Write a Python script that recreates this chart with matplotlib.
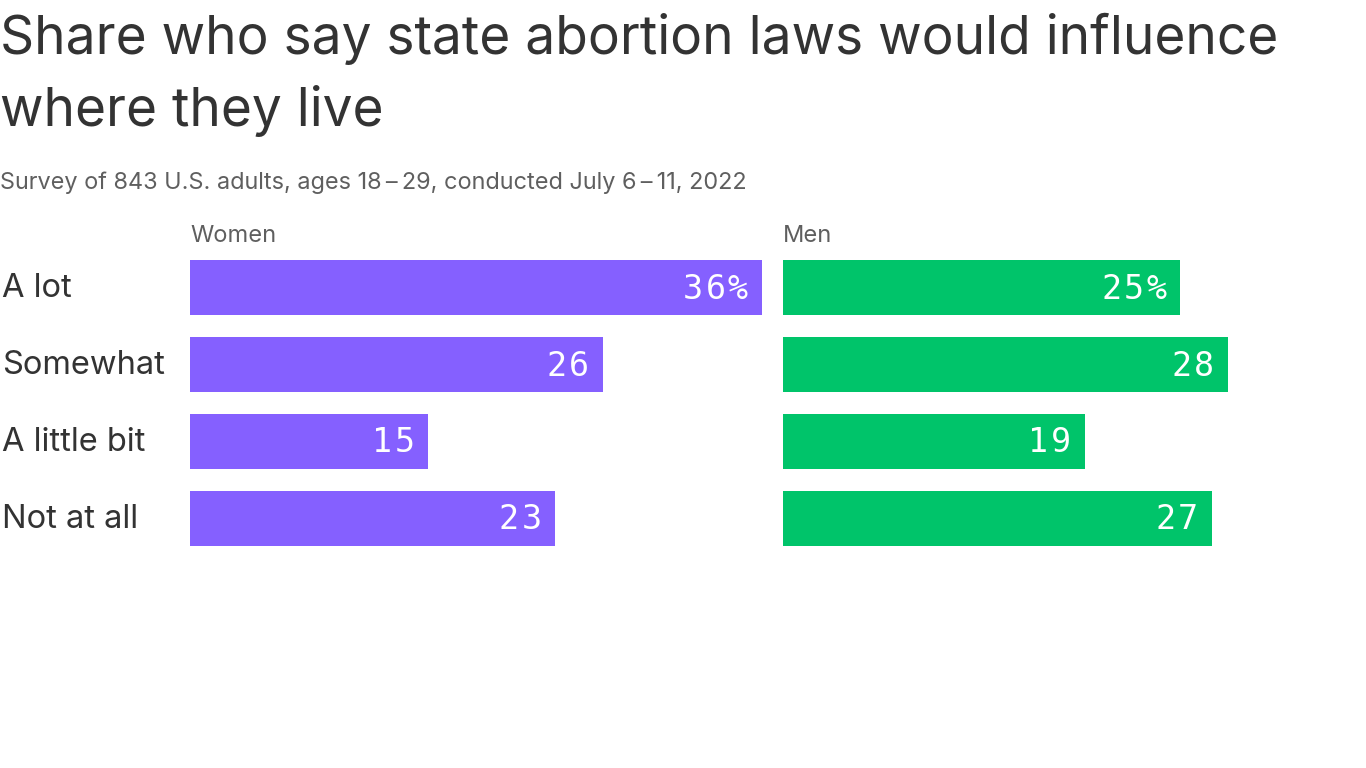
import matplotlib
matplotlib.use("Agg")
from matplotlib import pyplot as plt
from matplotlib.transforms import offset_copy

categories = ["A lot", "Somewhat", "A little bit", "Not at all"]
women = [36, 26, 15, 23]
men = [25, 28, 19, 27]
women_labels = ["36%", "26", "15", "23"]
men_labels = ["25%", "28", "19", "27"]

PURPLE = "#8560FF"
GREEN = "#00C46A"
DARK = "#333333"
GRAY = "#5f5f5f"

plt.rcParams["font.family"] = ["Inter", "DejaVu Sans"]

W, H = 1366, 768
fig = plt.figure(figsize=(W / 100, H / 100), dpi=100)
fig.patch.set_facecolor("white")

fig.text(0, 1 - 13 / H, "Share who say state abortion laws would influence\nwhere they live",
         fontsize=38.3, color=DARK, va="top", ha="left", linespacing=1.47)

fig.text(0, 1 - 183 / H, "Survey of 843 U.S. adults, ages 18\u2009\u2013\u200929, conducted July 6\u2009\u2013\u200911, 2022",
         fontsize=16.9, color=GRAY, va="center", ha="left")

bottom = 1 - 556.5 / H
height = 307 / H
width = 572 / W


def panel(left, values, labels, color, name):
    ax = fig.add_axes([left / W, bottom, width, height])
    ax.barh(range(len(values)), values, height=0.715, color=color)
    ax.set_xlim(0, 36)
    ax.set_ylim(len(values) - 0.5, -0.5)
    for i, (v, lab) in enumerate(zip(values, labels)):
        # spaced-out monospace digits, placed right to left
        for k, ch in enumerate(reversed(lab)):
            tr = offset_copy(ax.transData, fig=fig, x=-(14 + 22.5 * k) * 0.72, y=-1.5 * 0.72, units="points")
            ax.text(v, i, ch, color="white", fontsize=24, ha="right", va="center",
                    family="DejaVu Sans Mono", transform=tr)
    ax.axis("off")
    fig.text(left / W, 1 - 236 / H, name, fontsize=17, color=GRAY, va="center", ha="left")
    return ax


ax1 = panel(190, women, women_labels, PURPLE, "Women")
ax2 = panel(783, men, men_labels, GREEN, "Men")

for i, cat in enumerate(categories):
    y = ax1.transData.transform((0, i))[1]
    fig.text(2 / W, fig.transFigure.inverted().transform((0, y))[1] - 1 / H, cat,
             fontsize=23.5, color=DARK, va="center", ha="left")

fig.savefig("out.png", dpi=100, facecolor="white")
